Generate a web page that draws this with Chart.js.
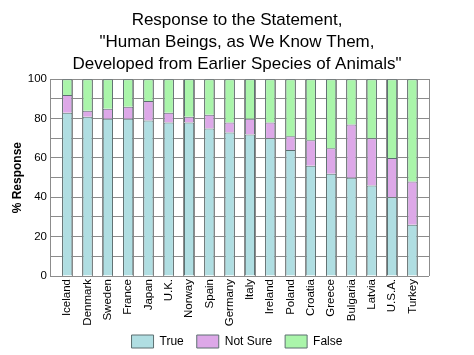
<!DOCTYPE html>
<html>
<head>
<meta charset="utf-8">
<script src="https://cdn.jsdelivr.net/npm/chart.js@4.4.1/dist/chart.umd.min.js"></script>
<style>
  html, body { margin: 0; padding: 0; background: #ffffff; }
  #wrap { width: 474px; height: 355px; position: relative; }
</style>
</head>
<body>
<div id="wrap"><canvas id="c" width="474" height="355"></canvas></div>
<script>
const categories = ["Iceland", "Denmark", "Sweden", "France", "Japan", "U.K.", "Norway", "Spain", "Germany", "Italy", "Ireland", "Poland", "Croatia", "Greece", "Bulgaria", "Latvia", "U.S.A.", "Turkey"];
const trueVals    = [83, 81, 80, 80, 79, 78, 78, 75, 73, 72, 70, 64, 56, 52, 50, 46, 40, 26];
const notSureVals = [ 9,  3,  5,  6, 10,  5,  3,  7,  5,  8,  8,  7, 13, 13, 27, 24, 20, 22];
const falseVals   = [ 8, 16, 15, 14, 11, 17, 19, 18, 22, 20, 22, 29, 31, 35, 23, 30, 40, 52];
const yTicks = [0, 20, 40, 60, 80, 100];
const seriesNames = ["True", "Not Sure", "False"];

const FONT = "'Liberation Sans', Arial, sans-serif";
const toPoints = arr => arr.map((v, i) => ({ x: i, y: v }));

// vertical grid lines at bar edges plus plot edges
const X_MIN = -0.85, X_MAX = 17.82;
const vGrid = [X_MIN];
categories.forEach((_, i) => { vGrid.push(i - 0.25, i + 0.25); });
vGrid.push(X_MAX);

const GRID = '#8c8c8c';
const BORDER = '#5c6f70';

// let the rotated category labels run past the axis box (they overlap only empty legend padding)
const labelRoom = {
  id: 'labelRoom',
  afterLayout(chart) { const s = chart.scales.x; s.bottom = s.top + 70; }
};

new Chart(document.getElementById('c'), {
  type: 'bar',
  plugins: [labelRoom],
  data: {
    datasets: [
      { label: seriesNames[0], data: toPoints(trueVals),    backgroundColor: '#b0dee2', borderColor: BORDER, borderWidth: 1 },
      { label: seriesNames[1], data: toPoints(notSureVals), backgroundColor: '#dda8e8', borderColor: BORDER, borderWidth: 1 },
      { label: seriesNames[2], data: toPoints(falseVals),   backgroundColor: '#aaf5aa', borderColor: BORDER, borderWidth: 1 }
    ]
  },
  options: {
    responsive: false,
    animation: false,
    devicePixelRatio: 1,
    categoryPercentage: 1.0,
    barPercentage: 0.5,
    layout: { padding: { left: 0, right: 0, top: 0, bottom: -3 } },
    plugins: {
      title: {
        display: true,
        text: ['Response to the Statement,', '"Human Beings, as We Know Them,', 'Developed from Earlier Species of Animals"'],
        color: '#000',
        font: { family: FONT, size: 17, weight: 'normal', lineHeight: 1.3 },
        padding: { top: 9, bottom: 4 }
      },
      legend: {
        display: true,
        position: 'bottom',
        labels: { color: '#000', font: { family: FONT, size: 12 }, boxWidth: 22, boxHeight: 13, padding: 13 }
      },
      tooltip: { enabled: false }
    },
    scales: {
      x: {
        type: 'linear', position: 'bottom', stacked: true, offset: false, min: X_MIN, max: X_MAX,
        afterBuildTicks: s => { s.ticks = categories.map((_, i) => ({ value: i })); },
        afterFit: s => { s.paddingLeft = 0; s.paddingRight = 0; s.height = 46; },
        ticks: { autoSkip: false, minRotation: 90, maxRotation: 90, padding: 3, color: '#000', font: { family: FONT, size: 11.5 }, callback: v => categories[v] },
        grid: { display: false, drawTicks: false, offset: false },
        border: { display: false }
      },
      xg: {
        type: 'linear', position: 'top', offset: false, min: X_MIN, max: X_MAX,
        afterBuildTicks: s => { s.ticks = vGrid.map(v => ({ value: v })); },
        afterFit: s => { s.paddingLeft = 0; s.paddingRight = 0; s.height = 0; },
        ticks: { display: false },
        grid: { display: true, color: GRID, lineWidth: 1, drawTicks: false, offset: false },
        border: { display: false }
      },
      y: {
        stacked: true, min: 0, max: 100,
        afterBuildTicks: s => { s.ticks = []; for (let v = 0; v <= 100; v += 10) s.ticks.push({ value: v }); },
        afterFit: s => { s.width = 50; },
        ticks: { color: '#000', padding: 3, font: { family: FONT, size: 11.5 }, callback: v => (yTicks.includes(v) ? String(v) : '') },
        grid: { color: GRID, lineWidth: 1, drawTicks: false },
        border: { display: true, color: GRID },
        title: { display: true, text: '% Response', color: '#000', font: { family: FONT, size: 12, weight: 'bold' }, padding: { top: 10, bottom: 0 } }
      },
      yr: {
        position: 'right', min: 0, max: 100,
        afterFit: s => { s.width = 45; },
        ticks: { display: false },
        grid: { display: false, drawTicks: false },
        border: { display: false }
      }
    }
  }
});
</script>
</body>
</html>
